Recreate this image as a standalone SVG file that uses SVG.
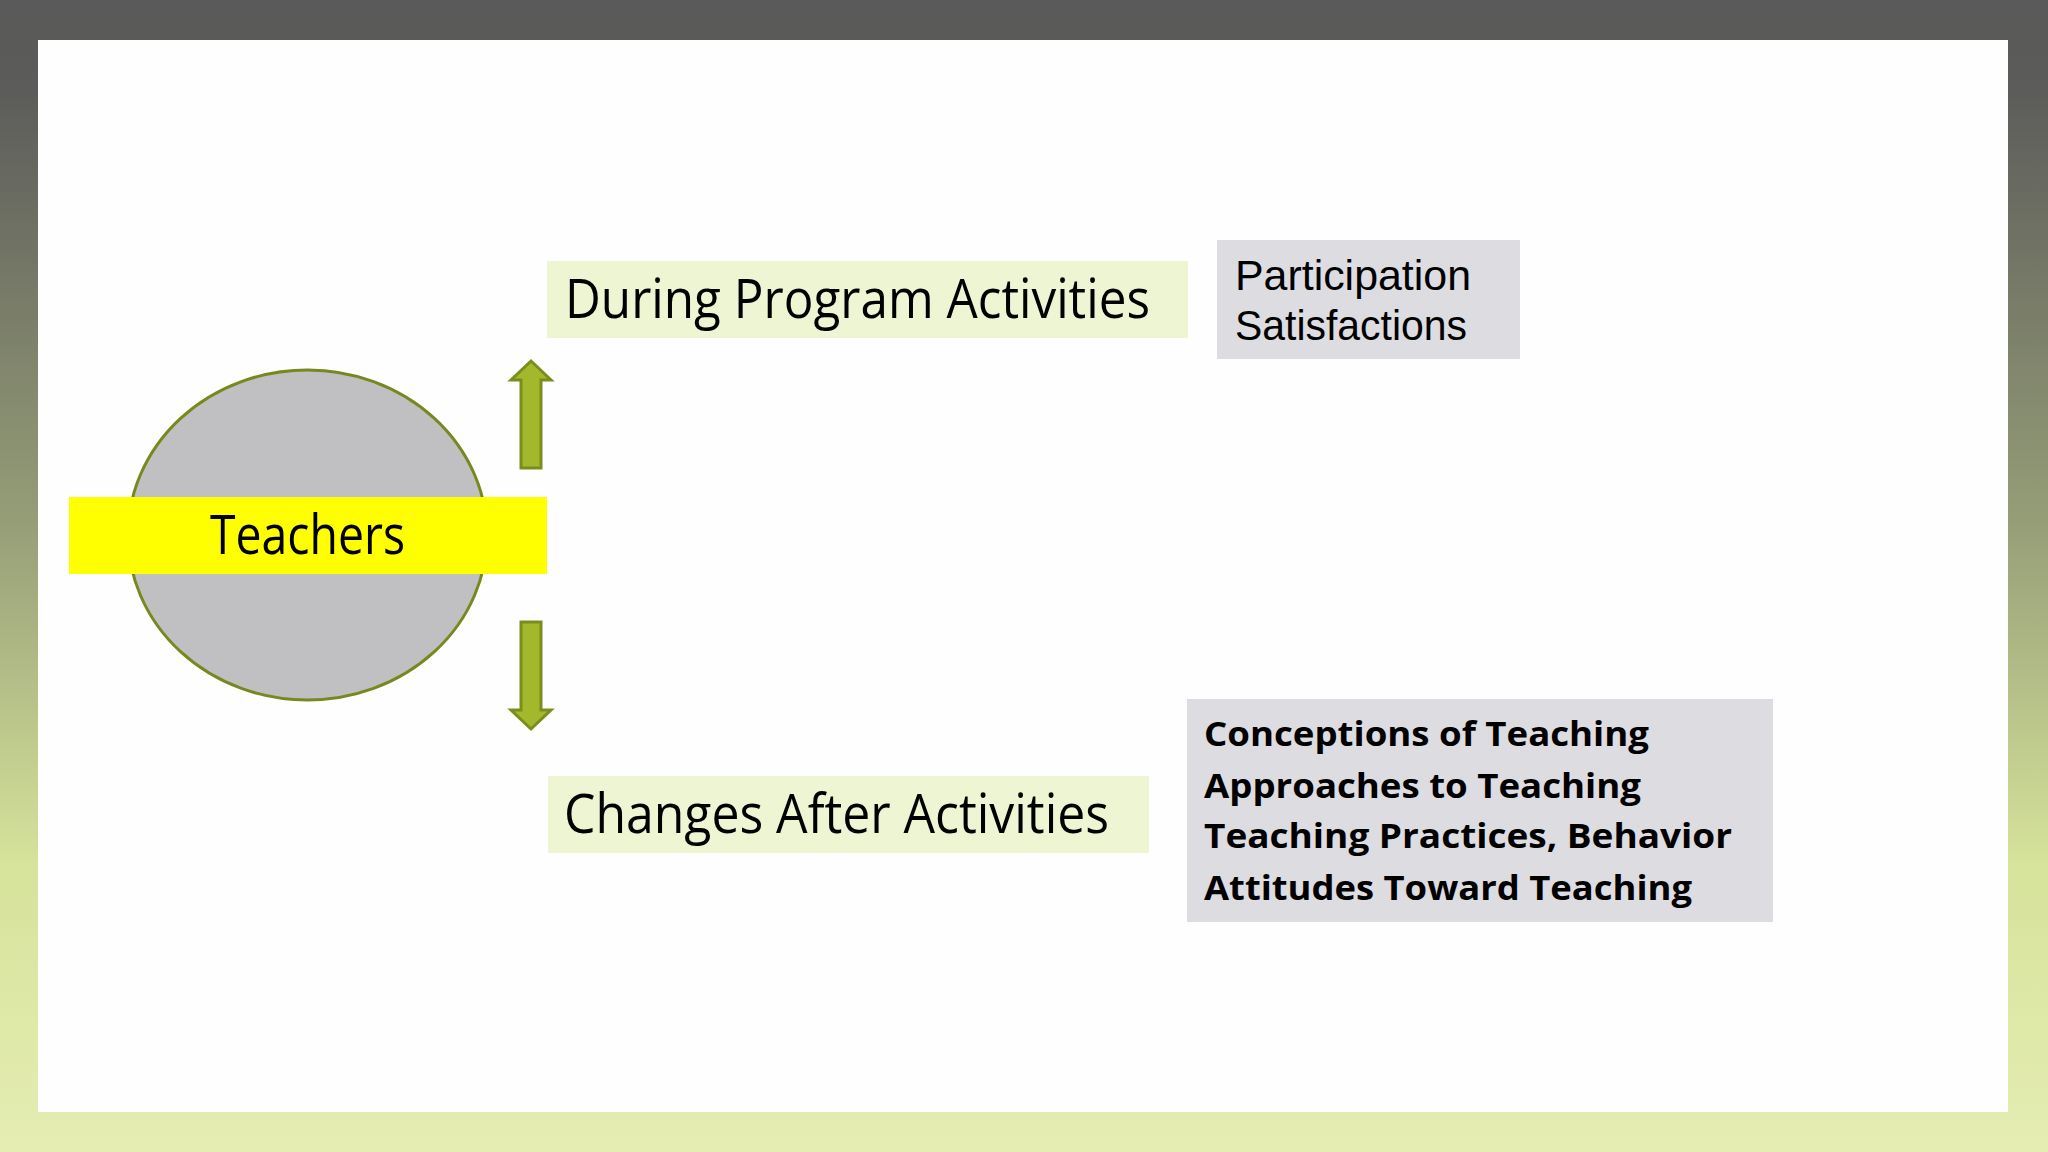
<svg xmlns="http://www.w3.org/2000/svg" width="2048" height="1152" viewBox="0 0 2048 1152">
  <defs>
    <linearGradient id="bg" x1="0" y1="0" x2="0" y2="1">
      <stop offset="0" stop-color="#595959"/>
      <stop offset="0.08" stop-color="#5c5c5a"/>
      <stop offset="0.45" stop-color="#959d77"/>
      <stop offset="0.75" stop-color="#d6e39a"/>
      <stop offset="1" stop-color="#e5edb3"/>
    </linearGradient>
  </defs>
  <style>
    .lbl { font-family: "Open Sans", "Noto Sans", "Liberation Sans", sans-serif; fill: #000; }
    .big { font-size: 55px; }
    .mid { font-family: "Liberation Sans", "Open Sans", sans-serif; font-size: 42px; }
    .bold { font-size: 34px; font-weight: 700; }
    .green { fill: #eef5d3; }
    .grey { fill: #dddce0; }
    .arrow { fill: #a3b82b; stroke: #7a8e1e; stroke-width: 3; stroke-linejoin: miter; }
  </style>
  <rect x="0" y="0" width="2048" height="1152" fill="url(#bg)"/>
  <rect x="38" y="40" width="1970" height="1072" fill="#fefefe"/>

  <g id="teachers">
    <ellipse cx="307.5" cy="535" rx="179.5" ry="165" fill="#c0bfc1" stroke="#76891f" stroke-width="3"/>
    <rect x="69" y="497" width="478" height="77" fill="#ffff00"/>
    <text class="lbl big" x="210" y="554" textLength="195" lengthAdjust="spacingAndGlyphs">Teachers</text>
  </g>

  <g id="during">
    <rect class="green" x="547" y="261" width="641" height="77"/>
    <text class="lbl big" x="565" y="318" textLength="585" lengthAdjust="spacingAndGlyphs">During Program Activities</text>
  </g>

  <g id="participation">
    <rect class="grey" x="1217" y="240" width="303" height="119"/>
    <text class="lbl mid" x="1235" y="290" textLength="236" lengthAdjust="spacingAndGlyphs">Participation</text>
    <text class="lbl mid" x="1235" y="340" textLength="232" lengthAdjust="spacingAndGlyphs">Satisfactions</text>
  </g>

  <g id="changes">
    <rect class="green" x="548" y="776" width="601" height="77"/>
    <text class="lbl big" x="564" y="833" textLength="545" lengthAdjust="spacingAndGlyphs">Changes After Activities</text>
  </g>

  <g id="outcomes">
    <rect class="grey" x="1187" y="699" width="586" height="223"/>
    <text class="lbl bold" x="1204" y="746" textLength="445" lengthAdjust="spacingAndGlyphs">Conceptions of Teaching</text>
    <text class="lbl bold" x="1204" y="798" textLength="437" lengthAdjust="spacingAndGlyphs">Approaches to Teaching</text>
    <text class="lbl bold" x="1204" y="848" textLength="528" lengthAdjust="spacingAndGlyphs">Teaching Practices, Behavior</text>
    <text class="lbl bold" x="1204" y="900" textLength="488" lengthAdjust="spacingAndGlyphs">Attitudes Toward Teaching</text>
  </g>

  <g id="connectors">
    <path class="arrow" d="M521,468 L521,380 L511,380 L531,361 L551,380 L541,380 L541,468 Z"/>
    <path class="arrow" d="M521,622 L521,710 L511,710 L531,729 L551,710 L541,710 L541,622 Z"/>
  </g>
</svg>
